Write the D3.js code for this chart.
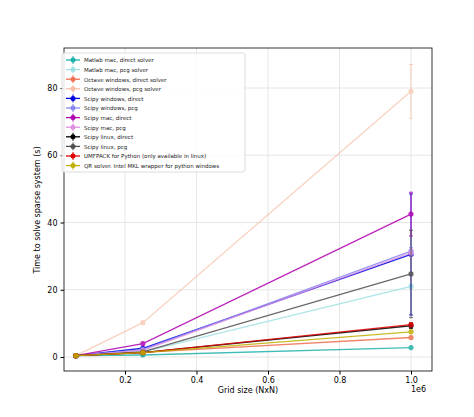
<!DOCTYPE html><html><head><meta charset="utf-8">
<script src="https://cdn.jsdelivr.net/npm/d3@7"></script>
<style>body{margin:0;background:#fff}text{font-family:"DejaVu Sans",sans-serif}</style></head><body>
<svg id="c" width="474" height="417"></svg>
<script>
const gridSizes=[62500,250000,1000000];
const seriesNames=["Matlab mac, direct solver","Matlab mac, pcg solver","Octave windows, direct solver","Octave windows, pcg solver","Scipy windows, direct","Scipy windows, pcg","Scipy mac, direct","Scipy mac, pcg","Scipy linux, direct","Scipy linux, pcg","UMFPACK for Python (only available in linux)","QR solver. Intel MKL wrapper for python windows"];
const seriesColors=["#20b2aa","#9fe2e6","#f07050","#f8c0a8","#0000e0","#8888f0","#b000b0","#e090e0","#000000","#505050","#e00000","#c0b000"];
const seriesValues=[[0.4,0.6,2.8],[0.4,1.5,21],[0.4,1.4,5.8],[0.4,10.2,79],[0.4,2.6,30.5],[0.4,2.2,31.5],[0.4,4.0,42.5],[0.4,2.0,31],[0.4,1.3,9.3],[0.4,1.5,24.7],[0.4,1.3,9.6],[0.4,1.3,7.5]];
const seriesErr=[[0,0,0.3],[0,0,0.5],[0,0,0.4],[0,0.3,8],[0,0.2,18],[0,0,1],[0,0.3,6.5],[0,0,1],[0,0,0.8],[0,0,13],[0,0,0.6],[0,0,0.5]];
const xTicks=[0.2,0.4,0.6,0.8,1.0];const yTicks=[0,20,40,60,80];
const svg=d3.select("#c");
const L=64,R=432,T=48,B=371;
const x=d3.scaleLinear().domain([0,1.0]).range([53.5,411]);
const y=d3.scaleLinear().domain([0,80]).range([357,88]);
const g=svg.append("g");
g.selectAll(".gx").data(xTicks).join("line").attr("x1",d=>x(d)).attr("x2",d=>x(d)).attr("y1",T).attr("y2",B).attr("stroke","#e6e6e6");
g.selectAll(".gy").data(yTicks).join("line").attr("x1",L).attr("x2",R).attr("y1",d=>y(d)).attr("y2",d=>y(d)).attr("stroke","#e6e6e6");
svg.append("rect").attr("x",L).attr("y",T).attr("width",R-L).attr("height",B-T).attr("fill","none").attr("stroke","#000").attr("stroke-width",0.8);
const xa=svg.append("g").attr("transform",`translate(0,${B})`).call(d3.axisBottom(x).tickValues(xTicks).tickFormat(d3.format(".1f")).tickSize(3.5));
const ya=svg.append("g").attr("transform",`translate(${L},0)`).call(d3.axisLeft(y).tickValues(yTicks).tickSize(3.5));
[xa,ya].forEach(a=>{a.select(".domain").remove();a.selectAll("text").attr("font-size",8).attr("fill","#000");});
svg.append("text").attr("x",411).attr("y",392).attr("font-size",8).text("1e6");
svg.append("text").attr("x",248).attr("y",393).attr("text-anchor","middle").attr("font-size",8).text("Grid size (NxN)");
svg.append("text").attr("transform","translate(40,210) rotate(-90)").attr("text-anchor","middle").attr("font-size",8).text("Time to solve sparse system (s)");
const line=d3.line().x((d,i)=>x(gridSizes[i]/1e6)).y(d=>y(d));
seriesValues.forEach((vals,s)=>{
 const c=seriesColors[s];const gg=svg.append("g").attr("opacity",s==3?0.7:0.85);
 gg.append("path").attr("d",line(vals)).attr("fill","none").attr("stroke",c).attr("stroke-width",1.3);
 vals.forEach((v,i)=>{const e=seriesErr[s][i];const cx=x(gridSizes[i]/1e6);
  if(e>0){gg.append("line").attr("x1",cx).attr("x2",cx).attr("y1",y(v-e)).attr("y2",y(v+e)).attr("stroke",c).attr("stroke-width",1);
   [v-e,v+e].forEach(w=>gg.append("line").attr("x1",cx-2).attr("x2",cx+2).attr("y1",y(w)).attr("y2",y(w)).attr("stroke",c));}
  gg.append("circle").attr("cx",cx).attr("cy",y(v)).attr("r",2.6).attr("fill",c);});
});
const lg=svg.append("g").attr("transform","translate(62,53)");
lg.append("rect").attr("width",183).attr("height",119).attr("rx",2).attr("fill","#fff").attr("fill-opacity",0.85).attr("stroke","#ddd");
seriesNames.forEach((n,i)=>{const yy=7+i*9.6,c=seriesColors[i];
 lg.append("line").attr("x1",4).attr("x2",18).attr("y1",yy).attr("y2",yy).attr("stroke",c).attr("stroke-width",1.3);
 lg.append("line").attr("x1",11).attr("x2",11).attr("y1",yy-4).attr("y2",yy+4).attr("stroke",c);
 lg.append("circle").attr("cx",11).attr("cy",yy).attr("r",2.5).attr("fill",c);
 lg.append("text").attr("x",22).attr("y",yy+2.3).attr("font-size",5.5).attr("fill","#222").text(n);});
</script></body></html>
